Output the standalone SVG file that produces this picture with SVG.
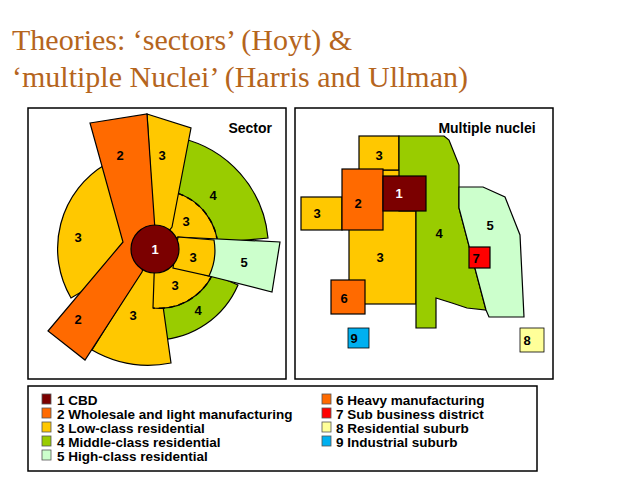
<svg xmlns="http://www.w3.org/2000/svg" width="638" height="478" viewBox="0 0 638 478">
<style>
.t{font-family:"Liberation Serif",serif;font-size:30px;fill:#b5651d}
.l{font-family:"Liberation Sans",Arial,sans-serif;font-weight:bold;font-size:13.5px;fill:#000}
.n{font-family:"Liberation Sans",Arial,sans-serif;font-weight:bold;font-size:13px;fill:#000;text-anchor:middle;dominant-baseline:central}
.s{stroke:#000;stroke-width:1.2}
.c1{fill:#7b0000}.c2{fill:#ff6a00}.c3{fill:#ffc800}.c4{fill:#99cc00}.c5{fill:#ccffcc}.c7{fill:#ff0000}.c8{fill:#ffff99}.c9{fill:#00b0f0}
.box{fill:#fff;stroke:#000;stroke-width:1.5}
</style>
<rect width="638" height="478" fill="#fff"/>
<text class="t" x="12" y="50">Theories: ‘sectors’ (Hoyt) &amp;</text>
<text class="t" x="12" y="87">‘multiple Nuclei’ (Harris and Ullman)</text>
<rect class="box" x="28" y="108" width="258" height="271"/>
<rect class="box" x="295" y="108" width="258" height="271"/>
<g id="sector">
<path class="c3 s" d="M155,249 L106,164 A98,98 0 0 0 71,298 Z"/>
<path class="c4 s" d="M155,249 L180,138 A113,113 0 0 1 268,238 Z"/>
<path class="c4 s" d="M155,249 L238,285 A91,91 0 0 1 158,340 Z"/>
<path class="c3 s" d="M155,249 L171,363 A114,114 0 0 1 92,350 Z"/>
<path class="c3 s" d="M155,249 L168,191 A59,59 0 0 1 153,308 Z"/>
<path d="M168,191 A59,59 0 0 1 153,308" fill="none" stroke="#000" stroke-width="1.5" stroke-dasharray="6,4"/>
<path class="c3 s" d="M147,114 L191,128 L172,227 L155,249 Z"/>
<path class="c5 s" d="M155,249 L178,237 L280,242 L272,292 L205,275 Z"/>
<path class="c3 s" d="M178,237 L214,240 A59,59 0 0 1 209,276 L173,268 Z"/>
<path class="c2 s" d="M90,123 L147,114 L155,230 L142,272 L85,360 L48,331 L123,242 Z"/>
<circle class="c1 s" cx="155" cy="249" r="24"/>
<text class="n" x="120" y="155">2</text><text class="n" x="162" y="155">3</text>
<text class="n" x="213" y="195">4</text><text class="n" x="78" y="237">3</text>
<text class="n" x="186" y="221">3</text><text class="n" x="155" y="249" fill="#fff" style="fill:#fff">1</text>
<text class="n" x="193" y="257">3</text><text class="n" x="244" y="262">5</text>
<text class="n" x="175" y="285">3</text><text class="n" x="198" y="310">4</text>
<text class="n" x="133" y="315">3</text><text class="n" x="78" y="319">2</text>
<text class="l" x="272" y="133" text-anchor="end" style="font-size:14px">Sector</text>
</g>
<g id="nuclei">
<rect class="c3 s" x="349" y="170" width="67" height="134"/>
<rect class="c3 s" x="359" y="136" width="40" height="34"/>
<rect class="c3 s" x="301" y="197" width="41" height="33"/>
<path class="c4 s" d="M399,136 L444,136 L449,140 L459,165 L459,208 L486,310 L467,308 L452,303 L436,298 L436,328 L416,328 L416,211 L399,211 Z"/>
<path class="c5 s" d="M459,187 L483,187 L505,197 L520,235 L524,317 L489,317 L486,310 L459,208 Z"/>
<rect class="c2 s" x="342" y="169" width="41" height="61"/>
<rect class="c1 s" x="383" y="176" width="43" height="35"/>
<rect class="c2 s" x="331" y="280" width="34" height="34"/>
<rect class="c7 s" x="469" y="247" width="21" height="21"/>
<rect class="c9" x="348" y="328" width="21" height="20" stroke="#000" stroke-width="0.8"/>
<rect class="c8" x="520" y="328" width="24" height="24" stroke="#000" stroke-width="0.8"/>
<text class="n" x="379" y="155">3</text><text class="n" x="399" y="193" style="fill:#fff">1</text>
<text class="n" x="358" y="203">2</text><text class="n" x="317" y="213">3</text>
<text class="n" x="380" y="257">3</text><text class="n" x="439" y="233">4</text>
<text class="n" x="490" y="225">5</text><text class="n" x="476" y="258">7</text>
<text class="n" x="344" y="298">6</text><text class="n" x="354" y="338">9</text>
<text class="n" x="527" y="340">8</text>
<text class="l" x="487" y="133" text-anchor="middle" style="font-size:14px">Multiple nuclei</text>
</g>
<g id="legend">
<rect class="box" x="28" y="386" width="509" height="85"/>
<rect class="c1" x="42" y="394" width="9" height="10" stroke="#555" stroke-width="0.8"/><text class="l" x="57" y="405">1 CBD</text>
<rect class="c2" x="42" y="408" width="9" height="10" stroke="#555" stroke-width="0.8"/><text class="l" x="57" y="419">2 Wholesale and light manufacturing</text>
<rect class="c3" x="42" y="422" width="9" height="10" stroke="#555" stroke-width="0.8"/><text class="l" x="57" y="433">3 Low-class residential</text>
<rect class="c4" x="42" y="436" width="9" height="10" stroke="#555" stroke-width="0.8"/><text class="l" x="57" y="447">4 Middle-class residential</text>
<rect class="c5" x="42" y="450" width="9" height="10" stroke="#555" stroke-width="0.8"/><text class="l" x="57" y="461">5 High-class residential</text>
<rect class="c2" x="322" y="394" width="9" height="10" stroke="#555" stroke-width="0.8"/><text class="l" x="336" y="405">6 Heavy manufacturing</text>
<rect class="c7" x="322" y="408" width="9" height="10" stroke="#555" stroke-width="0.8"/><text class="l" x="336" y="419">7 Sub business district</text>
<rect class="c8" x="322" y="422" width="9" height="10" stroke="#555" stroke-width="0.8"/><text class="l" x="336" y="433">8 Residential suburb</text>
<rect class="c9" x="322" y="436" width="9" height="10" stroke="#555" stroke-width="0.8"/><text class="l" x="336" y="447">9 Industrial suburb</text>
</g>
</svg>
